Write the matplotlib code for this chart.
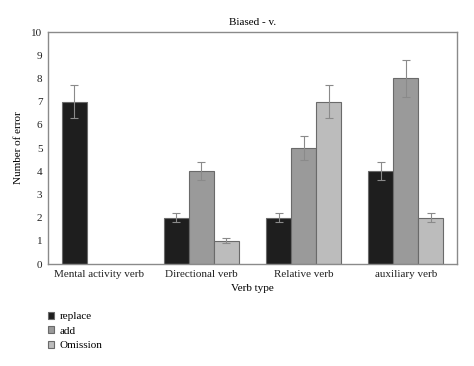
import matplotlib
matplotlib.use("Agg")
import matplotlib.pyplot as plt
import numpy as np

categories = ["Mental activity verb", "Directional verb", "Relative verb", "auxiliary verb"]
series_names = ["replace", "add", "Omission"]
replace_vals = [7, 2, 2, 4]
add_vals = [0, 4, 5, 8]
omission_vals = [0, 1, 7, 2]
replace_err = [0.7, 0.2, 0.2, 0.4]
add_err = [0, 0.4, 0.5, 0.8]
omission_err = [0, 0.1, 0.7, 0.2]
yticks = list(range(0, 11))

colors = ["#1e1e1e", "#9a9a9a", "#bcbcbc"]
plt.rcParams['font.family'] = ['Liberation Serif', 'DejaVu Serif']

fig = plt.figure(figsize=(4.74, 3.66), dpi=100)
ax = fig.add_axes([48/474, 1-264/366, (457-48)/474, (264-32)/366])

x = np.arange(len(categories))
w = 0.245
vals = [replace_vals, add_vals, omission_vals]
errs = [replace_err, add_err, omission_err]
handles = []
for i, (v, e, c, n) in enumerate(zip(vals, errs, colors, series_names)):
    pos = x + (i - 1) * w
    mask = np.array(v) > 0
    b = ax.bar(pos[mask], np.array(v)[mask], width=w, color=c, edgecolor="#6a6a6a", linewidth=0.8, label=n)
    ax.errorbar(pos[mask], np.array(v)[mask], yerr=np.array(e)[mask], fmt="none",
                ecolor="#8a8a8a", elinewidth=0.8, capsize=3, capthick=0.8)
    handles.append(b)

ax.set_xlim(-0.5, 3.5)
ax.set_ylim(0, 10)
ax.set_yticks(yticks)
ax.set_xticks(x)
ax.set_xticklabels(categories)
ax.tick_params(axis='both', length=0, labelsize=8, colors="#222222", pad=4)
for s in ax.spines.values():
    s.set_color("#8a8a8a")
    s.set_linewidth(1.0)
ax.set_title("Biased - v.", fontsize=8, pad=5)
ax.set_xlabel("Verb type", fontsize=8, labelpad=4)
ax.set_ylabel("Number of error", fontsize=8, labelpad=6)

fig.legend(handles=handles, labels=series_names, loc="upper left",
           bbox_to_anchor=(40/474, 1-304/366), frameon=False, fontsize=8,
           handlelength=0.6, handleheight=0.6, handletextpad=0.5, labelspacing=0.45,
           borderpad=0.2)

fig.savefig("out.png", dpi=100)
